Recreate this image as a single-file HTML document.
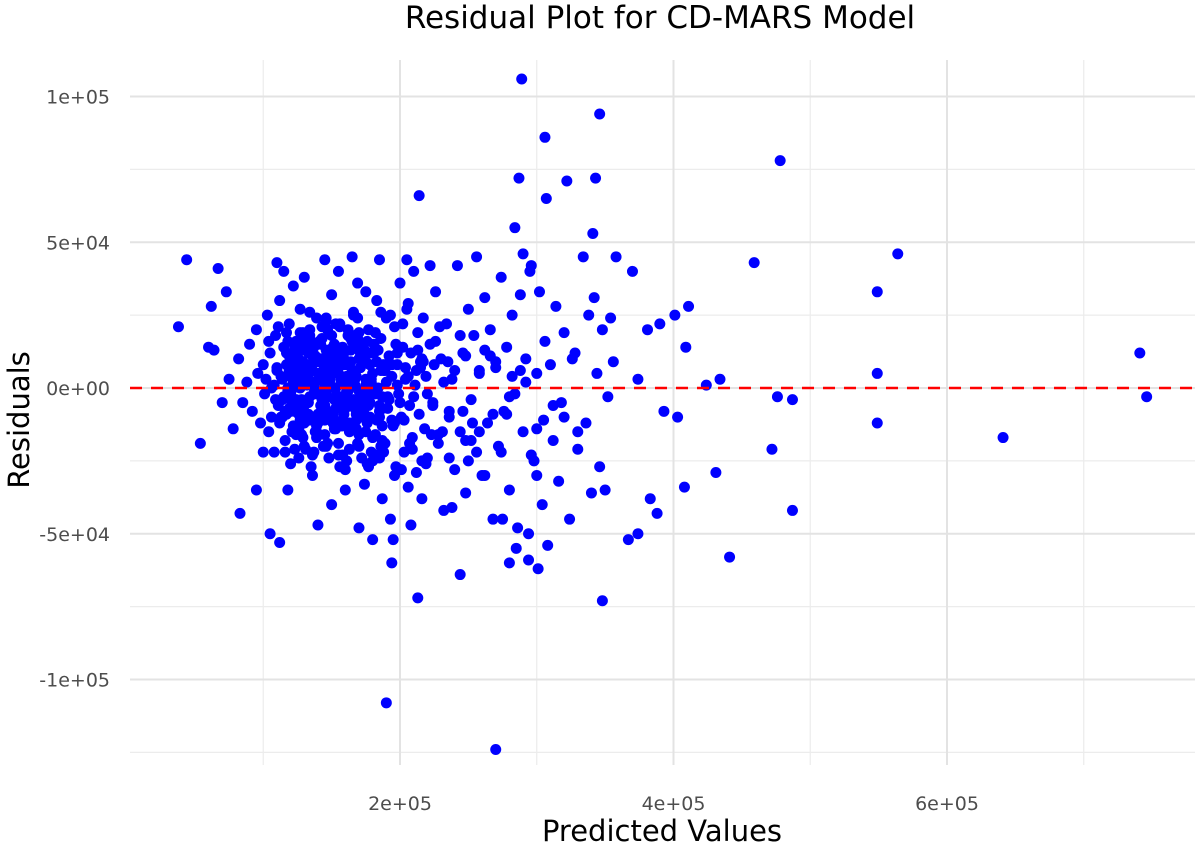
<!DOCTYPE html>
<html><head><meta charset="utf-8"><style>
html,body{margin:0;padding:0;background:#fff;}
svg{display:block;font-family:"DejaVu Sans","Liberation Sans",sans-serif;}
</style></head><body>
<svg id="chart" width="1200" height="850" viewBox="0 0 1200 850" xmlns="http://www.w3.org/2000/svg">
<rect width="1200" height="850" fill="#fff"/>
<g id="grid"></g>
<g id="points"></g>
<g id="axes"></g>
<text x="660" y="28" text-anchor="middle" font-size="31" fill="#000">Residual Plot for CD-MARS Model</text>
<text x="662" y="841" text-anchor="middle" font-size="29" fill="#000">Predicted Values</text>
<text transform="translate(29,420) rotate(-90)" text-anchor="middle" font-size="29" fill="#000">Residuals</text>
</svg>
<script>
// values in thousands
const predicted = [
289,346,306,478,287,322,343,214,307,341,284,564,459,549,741,549,746,641,549,487,
476,472,487,441,431,408,434,424,409,411,401,390,381,370,374,393,403,383,388,374,
367,348,190,270,213,244,194,280,301,294,38,44,54,83,67,62,73,
82,85,88,90,92,95,96,98,100,101,103,104,105,106,108,109,110,111,112,113,
114,115,116,117,118,119,120,121,122,123,124,125,126,127,128,129,130,131,132,133,
134,135,136,137,138,139,140,141,142,143,144,145,146,147,148,149,150,151,152,153,
154,155,156,157,158,159,160,161,162,163,164,165,166,167,168,169,170,171,172,173,
174,175,176,177,178,179,180,181,182,183,184,185,186,187,188,189,190,191,192,193,
194,195,196,197,198,199,200,201,202,203,204,205,206,207,208,209,210,211,212,213,
214,215,216,217,218,219,220,222,224,226,228,230,232,234,236,238,240,242,244,246,
248,250,252,254,256,258,260,262,264,266,268,270,272,274,276,278,280,282,284,286,
288,290,292,294,296,298,300,302,304,306,308,310,312,314,316,318,320,324,328,330,
334,336,338,340,342,344,346,348,350,352,354,356,358,60,64,70,75,78,95,100,105,
110,112,115,118,122,130,135,140,145,150,155,160,165,170,175,180,185,195,205,208,222,238,
256,250,275,262,285,290,295,300,320,330,
140,142,146,150,152,148,155,158,132,136,160,165,170,125,120,175,180,185,190,200,
128,134,138,144,156,162,168,172,178,182,186,192,198,204,210,216,224,232,246,258,
118,126,133,141,147,153,159,166,174,188,196,206,215,228,240,252,266,278,292,312,
108,114,122,137,143,151,157,163,171,179,187,197,203,212,220,235,248,262,282,300,
112,116,119,124,127,131,135,139,143,147,151,155,159,163,167,171,175,179,183,187,
113,117,121,125,129,133,137,141,145,149,153,157,161,165,169,173,177,181,185,189,
115,119,123,127,131,135,139,143,147,151,155,159,163,167,171,175,179,183,187,191,
110,114,118,122,126,130,134,138,142,146,150,154,158,162,166,170,174,178,182,186,
120,124,128,132,136,140,144,148,152,156,160,164,168,172,176,180,184,188,194,198,
102,106,109,117,121,129,137,145,153,161,169,177,185,193,201,207,213,219,225,231,
104,111,123,134,146,158,170,182,194,202,209,217,223,229,236,244,253,268,274,288,
116,126,136,146,156,166,176,186,196,206,216,226,236,248,258,270,280,296,305,326,
118,121,124,127,130,133,136,139,142,145,148,151,154,157,160,163,166,169,172,175,
119,122,125,128,131,134,137,140,143,146,149,152,155,158,161,164,167,170,173,176,
117,120,123,126,129,132,135,138,141,144,147,150,153,156,159,162,165,168,171,174,
121,124,127,130,133,136,139,142,145,148,151,154,157,160,163,166,169,172,175,178
];
const residuals = [
106,94,86,78,72,71,72,66,65,53,55,46,43,33,12,5,-3,-17,-12,-4,
-3,-21,-42,-58,-29,-34,3,1,14,28,25,22,20,40,3,-8,-10,-38,-43,-50,
-52,-73,-108,-124,-72,-64,-60,-60,-62,-59,21,44,-19,-43,41,28,33,
10,-5,2,15,-8,20,5,-12,8,-2,25,-15,12,0,-22,18,6,-6,30,-10,
3,14,-18,8,-3,22,-26,10,0,-8,16,4,-14,27,-4,9,-20,13,1,-9,
20,6,-30,-2,11,24,-12,3,-6,17,8,-16,0,12,-24,5,32,-8,15,-3,
7,-19,22,2,-11,10,-28,4,18,-6,13,-14,26,1,-9,36,-20,7,-2,15,
-33,9,-12,20,-5,3,-25,12,-16,30,0,-8,17,-38,6,-19,24,-3,11,-45,
4,-13,21,-27,8,-2,36,-10,14,-22,3,27,-34,-6,12,-17,40,1,-29,19,
-9,7,-38,24,-14,4,-24,15,-5,33,-19,10,-42,22,-10,3,-28,42,-15,12,
-36,27,-4,18,-22,6,-30,31,-12,20,-45,9,-20,38,-8,14,-35,25,-2,-48,
32,-15,10,-50,42,-25,5,33,-40,16,-54,8,-18,28,-32,-5,19,-45,12,-21,
45,-12,25,-36,31,5,-27,20,-35,-3,24,9,45,14,13,-5,3,-14,-35,-22,-50,
43,-53,40,-35,35,38,-27,-47,44,-40,40,-35,45,-48,33,-52,44,-52,44,-47,42,-41,
45,-25,-45,-30,-55,46,40,-30,-10,-15,
5,10,-2,12,0,7,5,14,8,2,-4,6,10,-6,4,-3,5,-6,2,-5,
2,-3,9,-7,11,-1,4,-10,8,-2,6,-4,1,7,-3,10,-6,2,-8,5,
-1,6,-5,3,9,-7,2,16,-4,8,-12,4,9,-16,6,-18,11,-9,2,-6,
1,-4,5,14,-1,-10,3,8,-7,12,-3,15,-11,6,-2,9,-18,13,4,-14,
-12,-8,11,-16,19,-21,7,-13,21,-19,14,-23,2,-15,18,-10,12,-22,9,-13,
4,19,-7,8,-17,12,-11,16,-9,3,-14,9,-1,16,-19,11,-6,15,-10,6,
-3,6,14,-11,4,16,-17,-4,20,-12,7,-9,-21,3,12,-15,2,-11,-18,-7,
7,-10,16,-13,10,-5,18,-15,10,-20,18,-12,3,20,-13,-16,13,-10,19,-20,
-8,13,-16,-5,14,-9,-20,13,-14,21,-7,17,-11,-24,16,-17,13,-22,-11,12,
3,-10,-4,-9,-15,19,-22,-11,22,-25,24,-27,-24,25,-28,-19,13,-26,8,-15,
16,21,-21,26,23,-23,19,-23,8,22,-21,9,-16,21,-8,18,-12,-9,-22,6,
-22,-24,-23,24,-27,25,-26,26,-30,29,-25,16,-24,11,-15,7,-3,-23,-11,10,
0,9,-4,13,-8,3,11,-2,15,-6,7,-9,12,-3,8,-12,4,14,-5,1,
-7,2,10,-5,6,-11,0,9,-8,13,1,-4,7,-13,3,9,-7,-1,11,-4,
12,-2,4,-9,16,-5,8,2,-10,5,-3,11,0,-7,12,-1,5,-14,7,-9,
-5,14,0,-12,5,8,-15,4,1,-9,10,-6,-13,2,8,-4,17,-8,3,-2
];
const xTicks = [200, 400, 600];
const xTickLabels = ["2e+05", "4e+05", "6e+05"];
const xMinor = [100, 300, 500, 700];
const yTicks = [100, 50, 0, -50, -100];
const yTickLabels = ["1e+05", "5e+04", "0e+00", "-5e+04", "-1e+05"];
const yMinor = [75, 25, -25, -75, -125];

const NS = "http://www.w3.org/2000/svg";
const X0 = 126.5, XS = 1.3675;   // px per thousand
const Y0 = 388, YS = 2.915;
const xs = v => X0 + v * XS;
const ys = v => Y0 - v * YS;
const PL = 130, PR = 1195, PT = 60, PB = 765;
function mk(tag, attrs, parent){const e=document.createElementNS(NS,tag);for(const k in attrs)e.setAttribute(k,attrs[k]);parent.appendChild(e);return e;}
const grid = document.getElementById('grid');
const axes = document.getElementById('axes');
const pts = document.getElementById('points');

xMinor.forEach(v=>{const l=mk('line',{x1:xs(v),x2:xs(v),y1:PT,y2:PB,stroke:'#ececec','stroke-width':1.2},grid);

});
yMinor.forEach(v=>{const l=mk('line',{x1:PL,x2:PR,y1:ys(v),y2:ys(v),stroke:'#ececec','stroke-width':1.2},grid);

});
xTicks.forEach((v,i)=>{const l=mk('line',{x1:xs(v),x2:xs(v),y1:PT,y2:PB,stroke:'#e3e3e3','stroke-width':2},grid);


const t=mk('text',{x:xs(v),y:810,'text-anchor':'middle','font-size':19,fill:'#4d4d4d'},axes);t.textContent=xTickLabels[i];

});
yTicks.forEach((v,i)=>{const l=mk('line',{x1:PL,x2:PR,y1:ys(v),y2:ys(v),stroke:'#e3e3e3','stroke-width':2},grid);


const t=mk('text',{x:110,y:ys(v)+7,'text-anchor':'end','font-size':19,fill:'#4d4d4d'},axes);t.textContent=yTickLabels[i];

});

predicted.forEach((p,i)=>{if(residuals[i]===undefined)return;
const c=mk('circle',{cx:xs(p),cy:ys(residuals[i]),r:5.5,fill:'#0000ff'},pts);

});

const zl=mk('line',{x1:PL,x2:PR,y1:ys(0),y2:ys(0),stroke:'#ff0000','stroke-width':2.6,'stroke-dasharray':'12 9'},axes);


</script>
</body></html>
